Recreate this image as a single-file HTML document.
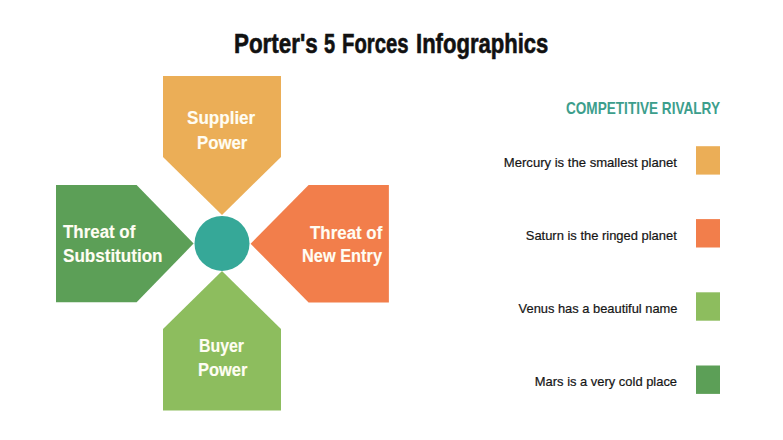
<!DOCTYPE html>
<html>
<head>
<meta charset="utf-8">
<style>
html,body{margin:0;padding:0;background:#fff;}
body{width:783px;height:440px;position:relative;overflow:hidden;font-family:"Liberation Sans",sans-serif;}
.t{position:absolute;white-space:nowrap;line-height:1;}
.b{font-weight:bold;}
.w{color:#fffdf3;font-weight:bold;font-size:18.9px;-webkit-text-stroke:0.15px #fffdf3;}
.l{transform-origin:0 0;}
.r{transform-origin:100% 0;}
.li{font-size:13px;color:#151515;-webkit-text-stroke:0.2px #151515;text-align:right;right:106px;transform-origin:100% 0;}
svg{position:absolute;left:0;top:0;}
.ti{top:30px;font-size:28px;color:#111;-webkit-text-stroke:0.6px #111;}
</style>
</head>
<body>
<svg width="783" height="440" viewBox="0 0 783 440">
  <polygon points="163,76 281,76 281,157 222,215 163,157" fill="#EBAE57"/>
  <polygon points="56,184.9 136.6,184.9 193.6,243.6 136.6,302.3 56,302.3" fill="#5C9F57"/>
  <polygon points="388.9,185.1 388.9,302.4 308.6,302.4 250.6,243.7 308.6,185.1" fill="#F27E4B"/>
  <polygon points="222,271 281,329 281,410.5 163,410.5 163,329" fill="#8DBD5E"/>
  <circle cx="222" cy="243.4" r="27.5" fill="#36A898"/>
  <rect x="696" y="146.2" width="24" height="28.4" fill="#EBAE57"/>
  <rect x="696" y="219.1" width="24" height="28.4" fill="#F27E4B"/>
  <rect x="696" y="292.3" width="24" height="28.4" fill="#8DBD5E"/>
  <rect x="696" y="365.5" width="24" height="28.4" fill="#5C9F57"/>
</svg>

<div class="t b l ti" style="left:234.4px;transform:scaleX(0.80)">Porter's</div>
<div class="t b l ti" style="left:324.4px;transform:scaleX(0.7115)">5</div>
<div class="t b l ti" style="left:342.2px;transform:scaleX(0.7237)">Forces</div>
<div class="t b l ti" style="left:416px;transform:scaleX(0.788)">Infographics</div>
<div class="t b l" style="left:565.7px;top:99.8px;font-size:17px;color:#3C9E8C;transform:scaleX(0.799)">COMPETITIVE RIVALRY</div>

<div class="t w l" style="left:187.3px;top:109.4px;transform:scaleX(0.903)">Supplier</div>
<div class="t w l" style="left:197px;top:133.55px;transform:scaleX(0.8875)">Power</div>
<div class="t w l" style="left:63.3px;top:223.4px;transform:scaleX(0.895)">Threat of</div>
<div class="t w l" style="left:63.3px;top:247px;transform:scaleX(0.903)">Substitution</div>
<div class="t w l" style="left:309.8px;top:223.6px;transform:scaleX(0.895)">Threat of</div>
<div class="t w l" style="left:302px;top:246.6px;transform:scaleX(0.866)">New Entry</div>
<div class="t w l" style="left:199px;top:337px;transform:scaleX(0.841)">Buyer</div>
<div class="t w l" style="left:198px;top:361.3px;transform:scaleX(0.872)">Power</div>

<div class="t li" style="top:155.8px;transform:scaleX(1.007)">Mercury is the smallest planet</div>
<div class="t li" style="top:228.6px;transform:scaleX(0.995)">Saturn is the ringed planet</div>
<div class="t li" style="top:301.7px;transform:scaleX(0.99)">Venus has a beautiful name</div>
<div class="t li" style="top:374.9px;transform:scaleX(0.994)">Mars is a very cold place</div>
</body>
</html>
